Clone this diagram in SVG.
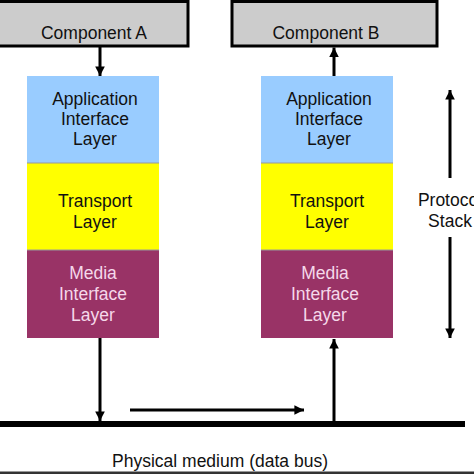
<svg xmlns="http://www.w3.org/2000/svg" width="474" height="474" viewBox="0 0 474 474">
<style>
text{font-family:"Liberation Sans",Arial,sans-serif;font-size:17.5px;text-anchor:middle;fill:#111}
.comp{fill:#cccccc;stroke:#000;stroke-width:3}
.app{fill:#99ccff}
.tr{fill:#ffff00}
.media{fill:#993366}
.mt{fill:#f5d8ea}
.sep{stroke:#999;stroke-width:1}
.ln{stroke:#000;stroke-width:3;fill:none}
</style>
<defs>
<marker id="ah" viewBox="0 0 10 10" refX="10" refY="5" markerWidth="3.2" markerHeight="3.2" orient="auto" markerUnits="strokeWidth">
<path d="M0,0 L10,5 L0,10 z" fill="#000"/>
</marker>
</defs>
<rect width="474" height="474" fill="#fff"/>
<g id="componentA">
<rect class="comp" x="-10" y="1.5" width="198" height="44.5"/>
<text x="94" y="39">Component A</text>
</g>
<g id="componentB">
<rect class="comp" x="232" y="1.5" width="205" height="44.5"/>
<text x="326" y="39">Component B</text>
</g>
<g id="stackA">
<g id="appA"><rect class="app" x="27" y="76" width="132" height="87"/>
<text x="95" y="105">Application</text><text x="95" y="125">Interface</text><text x="95" y="145">Layer</text></g>
<g id="transA"><rect class="tr" x="27" y="163" width="132" height="87"/>
<text x="95" y="207">Transport</text><text x="95" y="228">Layer</text></g>
<g id="mediaA"><rect class="media" x="27" y="250" width="132" height="88"/>
<text class="mt" x="93" y="279">Media</text><text class="mt" x="93" y="300">Interface</text><text class="mt" x="93" y="321">Layer</text></g>
<line class="sep" x1="27" y1="163" x2="159" y2="163"/>
<line class="sep" x1="27" y1="250" x2="159" y2="250"/>
</g>
<g id="stackB">
<g id="appB"><rect class="app" x="261" y="76" width="132" height="87"/>
<text x="329" y="105">Application</text><text x="329" y="125">Interface</text><text x="329" y="145">Layer</text></g>
<g id="transB"><rect class="tr" x="261" y="163" width="132" height="87"/>
<text x="327" y="207">Transport</text><text x="327" y="228">Layer</text></g>
<g id="mediaB"><rect class="media" x="261" y="250" width="132" height="88"/>
<text class="mt" x="325" y="279">Media</text><text class="mt" x="325" y="300">Interface</text><text class="mt" x="325" y="321">Layer</text></g>
<line class="sep" x1="261" y1="163" x2="393" y2="163"/>
<line class="sep" x1="261" y1="250" x2="393" y2="250"/>
</g>
<g id="bus">
<line x1="0" y1="424" x2="465" y2="424" stroke="#000" stroke-width="6"/>
<text x="220" y="467">Physical medium (data bus)</text>
<line x1="0" y1="473" x2="474" y2="473" stroke="#333" stroke-width="3"/>
</g>
<g id="protocol">
<text x="450" y="206">Protocol</text>
<text x="450" y="227">Stack</text>
</g>
<g id="connectors">
<line class="ln" x1="100" y1="47" x2="100" y2="76" marker-end="url(#ah)"/>
<line class="ln" x1="334" y1="76" x2="334" y2="47.5" marker-end="url(#ah)"/>
<line class="ln" x1="100" y1="338" x2="100" y2="421" marker-end="url(#ah)"/>
<line class="ln" x1="334" y1="421" x2="334" y2="339" marker-end="url(#ah)"/>
<line class="ln" x1="130" y1="410" x2="304" y2="410" marker-end="url(#ah)"/>
<line class="ln" x1="450" y1="178" x2="450" y2="90" marker-end="url(#ah)"/>
<line class="ln" x1="450" y1="237" x2="450" y2="338" marker-end="url(#ah)"/>
</g>
</svg>
